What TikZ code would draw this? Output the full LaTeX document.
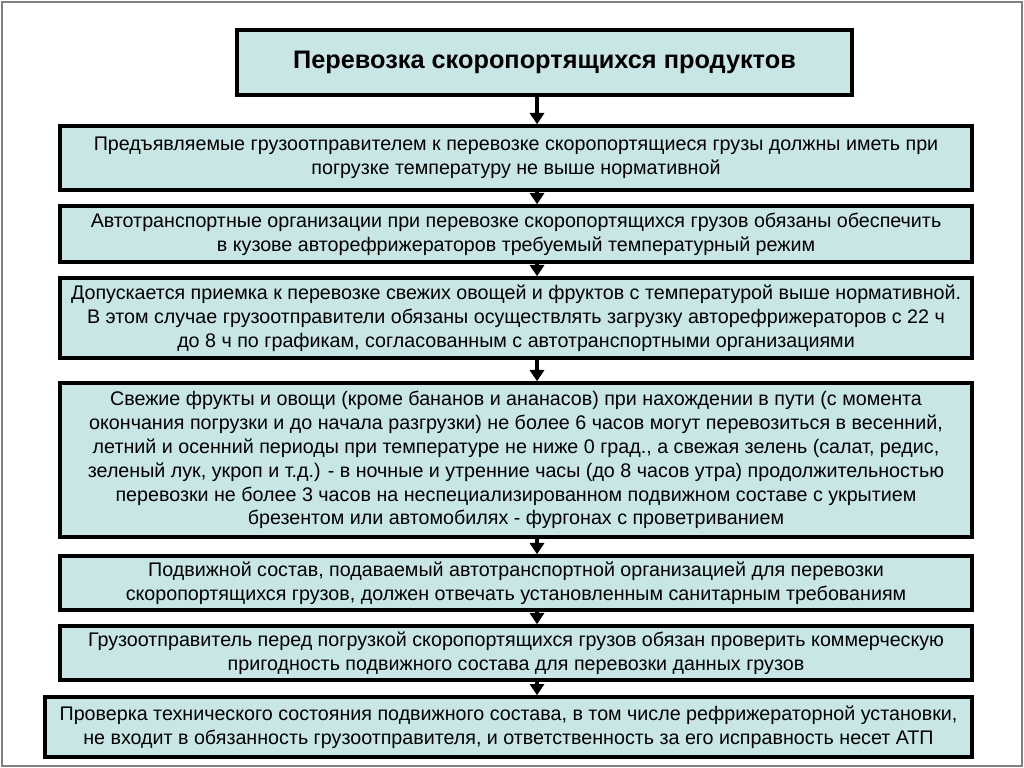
\documentclass[tikz,border=0pt]{standalone}
\usepackage{fontspec}
\setmainfont{Liberation Sans}
\usetikzlibrary{arrows.meta}
\definecolor{boxfill}{HTML}{C8E6E6}
\tikzset{
  stepbox/.style={draw=black, line width=2.5pt, fill=boxfill, align=center,
    inner sep=0pt, font=\fontsize{14}{17}\selectfont},
  flow/.style={line width=2.5pt, -{Triangle[length=8pt,width=10pt]}}
}
\begin{document}
\begin{tikzpicture}[x=0.025cm, y=-0.025cm]

% frame
\useasboundingbox (0,0) rectangle (1024,768);
\draw[gray, line width=0.8pt] (2,2) rectangle (1022,766);
\coordinate (axis) at (537,0);

% title
\node[stepbox, font=\fontsize{18}{21}\selectfont\bfseries, minimum width=615*0.025cm, minimum height=65*0.025cm] (t) at (544.5,62.5) {Перевозка скоропортящихся продуктов};

% boxes
\node[stepbox, minimum width=912*0.025cm, minimum height=64*0.025cm] (b1) at (516,158) {Предъявляемые грузоотправителем к перевозке скоропортящиеся грузы должны иметь при\\погрузке температуру не выше нормативной};
\node[stepbox, minimum width=912*0.025cm, minimum height=56*0.025cm] (b2) at (516,234) {Автотранспортные организации при перевозке скоропортящихся грузов обязаны обеспечить\\в кузове авторефрижераторов требуемый температурный режим};
\node[stepbox, minimum width=912*0.025cm, minimum height=80*0.025cm] (b3) at (516,318) {Допускается приемка к перевозке свежих овощей и фруктов с температурой выше нормативной.\\В этом случае грузоотправители обязаны осуществлять загрузку авторефрижераторов с 22 ч\\до 8 ч по графикам, согласованным с автотранспортными организациями};
\node[stepbox, minimum width=912*0.025cm, minimum height=154*0.025cm] (b4) at (516,460) {Свежие фрукты и овощи (кроме бананов и ананасов) при нахождении в пути (с момента\\окончания погрузки и до начала разгрузки) не более 6 часов могут перевозиться в весенний,\\летний и осенний периоды при температуре не ниже 0 град., а свежая зелень (салат, редис,\\зеленый лук, укроп и т.д.) - в ночные и утренние часы (до 8 часов утра) продолжительностью\\перевозки не более 3 часов на неспециализированном подвижном составе с укрытием\\брезентом или автомобилях - фургонах с проветриванием};
\node[stepbox, minimum width=912*0.025cm, minimum height=54*0.025cm] (b5) at (516,583) {Подвижной состав, подаваемый автотранспортной организацией для перевозки\\скоропортящихся грузов, должен отвечать установленным санитарным требованиям};
\node[stepbox, minimum width=912*0.025cm, minimum height=54*0.025cm] (b6) at (516,653) {Грузоотправитель перед погрузкой скоропортящихся грузов обязан проверить коммерческую\\пригодность подвижного состава для перевозки данных грузов};
\node[stepbox, minimum width=927*0.025cm, minimum height=60*0.025cm] (b7) at (508.5,727) {Проверка технического состояния подвижного состава, в том числе рефрижераторной установки,\\не входит в обязанность грузоотправителя, и ответственность за его исправность несет АТП};

% connectors
\foreach \a/\b in {t/b1,b1/b2,b2/b3,b3/b4,b4/b5,b5/b6,b6/b7}
  \draw[flow] (\a.south -| axis) -- (\b.north -| axis);

\end{tikzpicture}
\end{document}
